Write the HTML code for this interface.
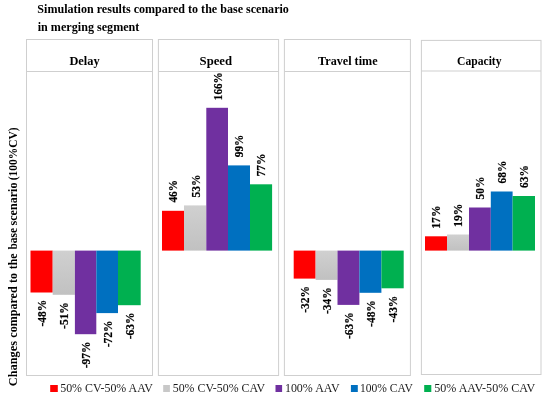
<!DOCTYPE html>
<html lang="en"><head><meta charset="utf-8"><title>Simulation results</title>
<style>
html,body{margin:0;padding:0;background:#fff;}
body{width:550px;height:400px;overflow:hidden;}
svg{display:block;}
text{font-family:"Liberation Serif","DejaVu Serif",serif;fill:#000;}
.b{font-weight:bold;}
.lg{fill:#1c1c1c;}
.v{font-weight:bold;stroke:#000;stroke-width:0.2px;}
</style></head><body>
<svg width="550" height="400" viewBox="0 0 550 400">
<defs><linearGradient id="gg" x1="0" y1="0" x2="0" y2="1"><stop offset="0" stop-color="#d0d0d0"/><stop offset="1" stop-color="#c1c1c1"/></linearGradient></defs>
<rect x="0" y="0" width="550" height="400" fill="#ffffff"/>
<text class="b" x="37.38" y="12.8" font-size="11.6" textLength="251.52" lengthAdjust="spacingAndGlyphs">Simulation results compared to the base scenario</text>
<text class="b" x="37.69" y="30.8" font-size="11.6" textLength="101.72" lengthAdjust="spacingAndGlyphs">in merging segment</text>
<text class="b" transform="translate(17 387) rotate(-90)" font-size="11.8"><tspan x="0.87" textLength="45.11" lengthAdjust="spacingAndGlyphs">Changes</tspan> <tspan x="49.39" textLength="51.27" lengthAdjust="spacingAndGlyphs">compared</tspan> <tspan x="104.00" textLength="9.94" lengthAdjust="spacingAndGlyphs">to</tspan> <tspan x="117.80" textLength="15.73" lengthAdjust="spacingAndGlyphs">the</tspan> <tspan x="137.51" textLength="21.47" lengthAdjust="spacingAndGlyphs">base</tspan> <tspan x="161.59" textLength="42.86" lengthAdjust="spacingAndGlyphs">scenario</tspan> <tspan x="206.71" textLength="52.77" lengthAdjust="spacingAndGlyphs">(100%CV)</tspan></text>
<rect x="26.50" y="39.50" width="126.00" height="336.00" fill="none" stroke="#cfcfcf" stroke-width="1"/>
<line x1="26.50" y1="71.50" x2="152.50" y2="71.50" stroke="#cfcfcf" stroke-width="1"/>
<text class="b" x="69.40" y="64.7" font-size="12.2" textLength="30.22" lengthAdjust="spacingAndGlyphs">Delay</text>
<rect x="30.50" y="250.60" width="22.20" height="41.90" fill="#ff0000"/>
<text class="v" transform="translate(46.00 326.60) rotate(-90)" font-size="11.5" textLength="26.72" lengthAdjust="spacingAndGlyphs">-48%</text>
<rect x="52.70" y="250.60" width="22.20" height="44.20" fill="url(#gg)"/>
<text class="v" transform="translate(68.20 328.90) rotate(-90)" font-size="11.5" textLength="26.72" lengthAdjust="spacingAndGlyphs">-51%</text>
<rect x="74.90" y="250.60" width="21.40" height="83.60" fill="#7030a0"/>
<text class="v" transform="translate(90.00 368.30) rotate(-90)" font-size="11.5" textLength="26.72" lengthAdjust="spacingAndGlyphs">-97%</text>
<rect x="96.30" y="250.60" width="21.70" height="62.50" fill="#0070c0"/>
<text class="v" transform="translate(111.55 347.20) rotate(-90)" font-size="11.5" textLength="26.72" lengthAdjust="spacingAndGlyphs">-72%</text>
<rect x="118.00" y="250.60" width="22.70" height="54.60" fill="#00b050"/>
<text class="v" transform="translate(133.75 339.30) rotate(-90)" font-size="11.5" textLength="26.72" lengthAdjust="spacingAndGlyphs">-63%</text>
<rect x="158.40" y="39.50" width="120.20" height="336.00" fill="none" stroke="#cfcfcf" stroke-width="1"/>
<line x1="158.40" y1="71.50" x2="278.60" y2="71.50" stroke="#cfcfcf" stroke-width="1"/>
<text class="b" x="199.57" y="64.7" font-size="12.2" textLength="32.52" lengthAdjust="spacingAndGlyphs">Speed</text>
<rect x="162.00" y="210.80" width="22.00" height="39.80" fill="#ff0000"/>
<text class="v" transform="translate(177.40 202.50) rotate(-90)" font-size="11.5" textLength="22.47" lengthAdjust="spacingAndGlyphs">46%</text>
<rect x="184.00" y="205.40" width="22.30" height="45.20" fill="url(#gg)"/>
<text class="v" transform="translate(199.55 197.40) rotate(-90)" font-size="11.5" textLength="22.79" lengthAdjust="spacingAndGlyphs">53%</text>
<rect x="206.30" y="107.80" width="21.70" height="142.80" fill="#7030a0"/>
<text class="v" transform="translate(221.55 100.17) rotate(-90)" font-size="11.5" textLength="27.89" lengthAdjust="spacingAndGlyphs">166%</text>
<rect x="228.00" y="165.40" width="22.00" height="85.20" fill="#0070c0"/>
<text class="v" transform="translate(243.40 157.19) rotate(-90)" font-size="11.5" textLength="22.57" lengthAdjust="spacingAndGlyphs">99%</text>
<rect x="250.00" y="184.30" width="22.10" height="66.30" fill="#00b050"/>
<text class="v" transform="translate(265.45 176.50) rotate(-90)" font-size="11.5" textLength="23.00" lengthAdjust="spacingAndGlyphs">77%</text>
<rect x="284.40" y="39.50" width="126.00" height="336.00" fill="none" stroke="#cfcfcf" stroke-width="1"/>
<line x1="284.40" y1="71.50" x2="410.40" y2="71.50" stroke="#cfcfcf" stroke-width="1"/>
<text class="b" x="318.10" y="64.7" font-size="12.2" textLength="59.43" lengthAdjust="spacingAndGlyphs">Travel time</text>
<rect x="293.70" y="250.60" width="21.90" height="28.00" fill="#ff0000"/>
<text class="v" transform="translate(309.05 312.70) rotate(-90)" font-size="11.5" textLength="26.72" lengthAdjust="spacingAndGlyphs">-32%</text>
<rect x="315.60" y="250.60" width="21.90" height="29.30" fill="url(#gg)"/>
<text class="v" transform="translate(330.95 314.00) rotate(-90)" font-size="11.5" textLength="26.72" lengthAdjust="spacingAndGlyphs">-34%</text>
<rect x="337.50" y="250.60" width="21.90" height="54.30" fill="#7030a0"/>
<text class="v" transform="translate(352.85 339.00) rotate(-90)" font-size="11.5" textLength="26.72" lengthAdjust="spacingAndGlyphs">-63%</text>
<rect x="359.40" y="250.60" width="22.00" height="42.20" fill="#0070c0"/>
<text class="v" transform="translate(374.80 326.90) rotate(-90)" font-size="11.5" textLength="26.72" lengthAdjust="spacingAndGlyphs">-48%</text>
<rect x="381.40" y="250.60" width="22.30" height="37.70" fill="#00b050"/>
<text class="v" transform="translate(396.95 322.40) rotate(-90)" font-size="11.5" textLength="26.72" lengthAdjust="spacingAndGlyphs">-43%</text>
<rect x="421.40" y="40.40" width="119.60" height="334.10" fill="none" stroke="#cfcfcf" stroke-width="1"/>
<line x1="421.40" y1="71.00" x2="541.00" y2="71.00" stroke="#cfcfcf" stroke-width="1"/>
<text class="b" x="457.03" y="64.7" font-size="12.2" textLength="44.53" lengthAdjust="spacingAndGlyphs">Capacity</text>
<rect x="425.00" y="236.30" width="22.00" height="14.30" fill="#ff0000"/>
<text class="v" transform="translate(440.40 228.71) rotate(-90)" font-size="11.5" textLength="23.22" lengthAdjust="spacingAndGlyphs">17%</text>
<rect x="447.00" y="234.50" width="22.00" height="16.10" fill="url(#gg)"/>
<text class="v" transform="translate(462.40 226.91) rotate(-90)" font-size="11.5" textLength="23.22" lengthAdjust="spacingAndGlyphs">19%</text>
<rect x="469.00" y="207.50" width="21.80" height="43.10" fill="#7030a0"/>
<text class="v" transform="translate(484.30 199.50) rotate(-90)" font-size="11.5" textLength="22.79" lengthAdjust="spacingAndGlyphs">50%</text>
<rect x="490.80" y="191.50" width="21.80" height="59.10" fill="#0070c0"/>
<text class="v" transform="translate(506.10 183.39) rotate(-90)" font-size="11.5" textLength="22.68" lengthAdjust="spacingAndGlyphs">68%</text>
<rect x="512.60" y="196.00" width="22.40" height="54.60" fill="#00b050"/>
<text class="v" transform="translate(528.20 187.89) rotate(-90)" font-size="11.5" textLength="22.68" lengthAdjust="spacingAndGlyphs">63%</text>
<rect x="50.2" y="385.0" width="7.60" height="7.0" fill="#ff0000"/>
<text class="lg" x="60.20" y="391.9" font-size="12.0" textLength="92.69" lengthAdjust="spacingAndGlyphs">50% CV-50% AAV</text>
<rect x="163.2" y="385.0" width="6.70" height="7.0" fill="#c8c8c8"/>
<text class="lg" x="172.71" y="391.9" font-size="12.0" textLength="92.44" lengthAdjust="spacingAndGlyphs">50% CV-50% CAV</text>
<rect x="275.5" y="385.0" width="6.60" height="7.0" fill="#7030a0"/>
<text class="lg" x="284.90" y="391.9" font-size="12.0" textLength="54.68" lengthAdjust="spacingAndGlyphs">100% AAV</text>
<rect x="350.9" y="385.0" width="6.90" height="7.0" fill="#0070c0"/>
<text class="lg" x="360.04" y="391.9" font-size="12.0" textLength="52.74" lengthAdjust="spacingAndGlyphs">100% CAV</text>
<rect x="424.2" y="385.0" width="7.10" height="7.0" fill="#00b050"/>
<text class="lg" x="434.20" y="391.9" font-size="12.0" textLength="100.97" lengthAdjust="spacingAndGlyphs">50% AAV-50% CAV</text>
</svg>
</body></html>
